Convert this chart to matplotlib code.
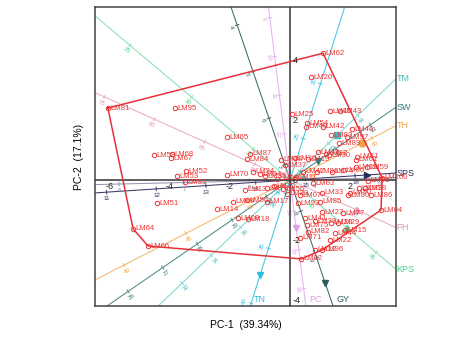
import numpy as np
import matplotlib.pyplot as plt

plt.rcParams['font.family'] = ['Liberation Sans', 'DejaVu Sans']

# genotype scores on PC-1 / PC-2
geno_names = [
    "LM81", "LM95", "LM65", "LM58", "LM68", "LM67", "LM52", "LM53", "LM93", "LM70",
    "LM51", "LM14", "LM64", "LM66", "LM87", "LM84", "LM34", "LM24", "LM35", "LM13",
    "LM78", "LM55", "LM17", "LM69", "LM56", "LM08", "LM18", "LM62", "LM20", "LM25",
    "LM45", "LM43", "LM54", "LM40", "LM42", "LM46", "LM97", "LM83", "LM89", "LM49",
    "LM32", "LM16", "LM19", "LM61", "LM81", "LM09", "LM59", "LM47", "LM98", "LM74",
    "LM06", "LM01", "LM100", "LM38", "LM90", "LM36", "LM63", "LM33", "LM80", "LM07",
    "LM85", "LM92", "LM27", "LM77", "LM41", "LM75", "LM29", "LM28", "LM82", "LM22",
    "LM71", "LM44", "LM15", "LM12", "LM96", "LM02", "LM04", "LM48", "LM37", "LM11",
    "LM72", "LM26", "LM30", "LM23", "LM39", "LM86",
]
geno_x = [
    -6.07, -3.83, -2.10, -4.53, -3.95, -3.97, -3.47, -3.77, -3.50, -2.10,
    -4.43, -2.43, -5.23, -4.73, -1.33, -1.43, -1.23, -1.00, -0.85, -1.50,
    -0.77, -0.23, -0.77, -1.90, -1.43, -1.73, -1.40, 1.10, 0.70, 0.07,
    1.33, 1.65, 0.57, 0.53, 1.10, 2.07, 1.90, 1.37, 1.63, 0.93,
    1.20, 0.17, 0.60, 2.20, 2.23, 2.20, 2.57, 0.43, 0.90, 1.40,
    1.77, 2.60, 3.07, 2.50, 2.00, 2.30, 0.77, 1.07, 1.93, 0.33,
    1.00, 0.27, 1.07, 1.77, 0.50, 0.57, 1.60, 1.37, 0.60, 1.33,
    0.33, 1.50, 1.83, 0.83, 1.07, 0.37, 3.03, -0.30, -0.17, 0.20,
    -0.55, -0.45, 1.30, -0.10, 0.83, 2.70,
]
geno_y = [
    2.40, 2.40, 1.43, 0.83, 0.86, 0.73, 0.30, 0.13, -0.07, 0.17,
    -0.77, -0.97, -1.63, -2.20, 0.87, 0.70, 0.27, 0.20, 0.13, -0.33,
    -0.27, -0.30, -0.73, -0.73, -0.67, -1.27, -1.30, 4.23, 3.43, 2.20,
    2.30, 2.30, 1.90, 1.77, 1.77, 1.70, 1.43, 1.50, 1.23, 0.93,
    0.87, 0.73, 0.70, 0.67, 0.77, 0.43, 0.43, 0.27, 0.27, 0.27,
    0.33, -0.03, 0.07, -0.27, -0.43, -0.27, -0.10, -0.43, -0.50, -0.50,
    -0.73, -0.77, -1.07, -1.10, -1.27, -1.50, -1.43, -1.43, -1.73, -2.00,
    -1.93, -1.77, -1.67, -2.33, -2.33, -2.63, -1.00, 0.67, 0.50, 0.10,
    -0.20, 0.05, 0.83, -0.45, -1.37, -0.50,
]

# trait vectors: direction, end marker and colour
traits = ["TM", "SW", "TH", "SPS", "SPN", "PH", "KPS", "GY", "PC", "TN"]
trait_dx = [1.57, 0.93, 2.40, 2.57, 3.00, 2.23, 1.90, 1.17, 0.20, -1.00]
trait_dy = [1.50, 0.64, 1.23, 0.17, 0.07, -1.00, -1.60, -3.43, -1.60, -3.17]
trait_marker = ["s", "v", "o", ">", "", "^", "^", "v", "v", "v"]
trait_color = ["#45bcb8", "#3a7a7a", "#f0a448", "#2c2c58", "#857c9c", "#e596b4",
               "#45d585", "#2f5a5a", "#dca0e6", "#30bde4"]
line_color = ["#7fd6d2", "#4f8a8a", "#f3b868", "#3a3a66", "#9a92b0", "#ebadc4",
              "#86e2b6", "#3f6a6a", "#e2b2ee", "#45c6e8"]
trait_label_pos = ["right", "right", "right", "right", None, "right", "right",
                   "bottom", "bottom", "bottom"]

# calibration marks along each trait axis: values, first position, spacing
calib_values = {
    "TM": [32, 34, 36, 38, 40, 42, 44],
    "SW": [26, 27, 28, 29, 30, 31, 32, 33],
    "TH": [40, 45, 50, 55, 60],
    "SPS": [11, 12, 13, 14, 15, 16],
    "SPN": [6, 7, 8, 9, 10],
    "PH": [75, 80, 85, 90, 95, 100],
    "KPS": [25, 30, 35, 40, 45],
    "GY": [4, 5, 6, 7, 8, 9],
    "PC": [9, 10, 11, 12, 13, 14, 15, 16],
    "TN": [20, 25, 30, 35, 40],
}
calib_t0 = {"TM": -4.98, "SW": -6.55, "TH": -6.22, "SPS": -6.13, "SPN": -5.70,
            "PH": -6.78, "KPS": -6.97, "GY": -5.46, "PC": -5.45, "TN": -3.37}
calib_step = {"TM": 0.675, "SW": 1.40, "TH": 0.464, "SPS": 1.66, "SPN": 2.17,
              "PH": 0.366, "KPS": 0.536, "GY": 1.64, "PC": 1.30, "TN": 0.384}

xlim = (-6.5, 3.53)
ylim = (-4.2, 5.77)

fig = plt.figure(figsize=(4.74, 3.43), dpi=100)
ax = fig.add_axes([95 / 474, 37 / 343, 301 / 474, 299 / 343])
ax.set_xlim(*xlim)
ax.set_ylim(*ylim)
ax.set_xticks([])
ax.set_yticks([])
for sp in ax.spines.values():
    sp.set_color("#444444")
    sp.set_linewidth(1.1)

# trait axes with calibration
for i, name in enumerate(traits):
    d = np.array([trait_dx[i], trait_dy[i]])
    u = d / np.hypot(*d)
    n = np.array([-u[1], u[0]])
    col = trait_color[i]
    lcol = line_color[i]
    ax.plot([-20 * u[0], 20 * u[0]], [-20 * u[1], 20 * u[1]], color=lcol, lw=0.75, zorder=2)
    if trait_marker[i]:
        ax.plot(d[0], d[1], marker=trait_marker[i], color=col, ms=5, zorder=4)
    ang = np.degrees(np.arctan2(u[1], u[0]))
    if ang > 90:
        ang -= 180
    elif ang < -90:
        ang += 180
    for v in calib_values[name]:
        t = calib_t0[name] + calib_step[name] * (v - calib_values[name][0])
        p = t * u
        if not (xlim[0] < p[0] < xlim[1] and ylim[0] < p[1] < ylim[1]):
            continue
        a, b = p - 0.06 * n, p + 0.06 * n
        ax.plot([a[0], b[0]], [a[1], b[1]], color=lcol, lw=0.7, zorder=2)
        q = p - 0.22 * n
        ax.text(q[0], q[1], str(v), color=col, fontsize=4.5, rotation=ang,
                ha="center", va="center", zorder=3)
    # name at the frame edge
    ts = []
    if u[0] > 0:
        ts.append(xlim[1] / u[0])
    elif u[0] < 0:
        ts.append(xlim[0] / u[0])
    if u[1] > 0:
        ts.append(ylim[1] / u[1])
    elif u[1] < 0:
        ts.append(ylim[0] / u[1])
    e = min(ts) * u
    if trait_label_pos[i] == "right":
        ax.text(e[0] + 0.02, e[1], name, color=col, fontsize=6.5, ha="left",
                va="center", clip_on=False, zorder=5)
    elif trait_label_pos[i] == "bottom":
        ax.text(e[0] + 0.1, ylim[0] + 0.22, name, color=col, fontsize=6.5,
                ha="left", va="center", zorder=5)

# principal axes
ax.axhline(0, color="#333333", lw=1.1, zorder=3)
ax.axvline(0, color="#333333", lw=1.1, zorder=3)
for v in [-6, -4, -2, 2]:
    ax.text(v, -0.22, str(v), fontsize=6.5, ha="center", va="center", color="#222222", zorder=5)
ax.text(0.08, 0.0, "0", fontsize=6.5, ha="left", va="center", color="#222222", zorder=5)
for v in [4, 2, -2, -4]:
    ax.text(0.08, v, str(v), fontsize=6.5, ha="left", va="center", color="#222222", zorder=5)

# convex hull of genotypes (monotone chain)
pts = sorted(set(zip(geno_x, geno_y)))


def cross(o, a, b):
    return (a[0] - o[0]) * (b[1] - o[1]) - (a[1] - o[1]) * (b[0] - o[0])


lower, upper = [], []
for p in pts:
    while len(lower) >= 2 and cross(lower[-2], lower[-1], p) <= 0:
        lower.pop()
    lower.append(p)
for p in reversed(pts):
    while len(upper) >= 2 and cross(upper[-2], upper[-1], p) <= 0:
        upper.pop()
    upper.append(p)
hull = lower[:-1] + upper
hx, hy = zip(*hull)
ax.plot(hx, hy, color="#e8303a", lw=1.1, zorder=4)

# genotypes
red = "#f03535"
ax.plot(geno_x, geno_y, "o", mfc="none", mec=red, ms=3.2, mew=0.7, zorder=5)
for name, x, y in zip(geno_names, geno_x, geno_y):
    ax.text(x + 0.08, y, name, color=red, fontsize=5.6, ha="left", va="center", zorder=6)

ax.set_xlabel("PC-1  (39.34%)", fontsize=7.5, labelpad=10)
ax.set_ylabel("PC-2  (17.1%)", fontsize=7.5, labelpad=8)

fig.savefig("out.png", dpi=100)
